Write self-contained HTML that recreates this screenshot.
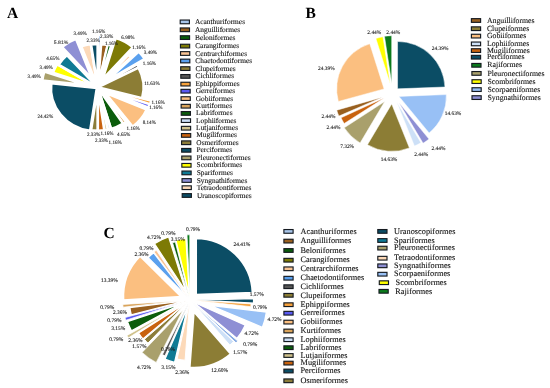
<!DOCTYPE html>
<html><head><meta charset="utf-8"><title>Figure</title>
<style>
html,body{margin:0;padding:0;background:#fff;}
body{width:550px;height:388px;overflow:hidden;}
svg{display:block;font-family:"Liberation Serif",serif;text-rendering:geometricPrecision;filter:blur(0.4px);}
</style></head><body>
<svg width="550" height="388" viewBox="0 0 550 388">
<rect width="550" height="388" fill="#fff"/>
<g stroke="#fff" stroke-linejoin="miter"><path d="M98.05 78.44L98.05 35.04A46 43.4 0 0 1 101.4 35.16Z" fill="#a9c6ea" stroke-width="2.2"/>
<path d="M97.7 87.4L101.06 44.12A46 43.4 0 0 1 107.7 45.04Z" fill="#99601f" stroke-width="2.7"/>
<path d="M97.7 87.4L107.7 45.04A46 43.4 0 0 1 110.95 45.84Z" fill="#0a5c0a" stroke-width="2.1"/>
<path d="M102.35 79.58L115.6 38.02A46 43.4 0 0 1 133.05 47.26Z" fill="#7d7a05" stroke-width="2.7"/>
<path d="M97.7 87.4L128.4 55.08A46 43.4 0 0 1 130.82 57.28Z" fill="#f9c393" stroke-width="2.3"/>
<path d="M105.61 81.63L138.73 51.51A46 43.4 0 0 1 144.88 59.02Z" fill="#5aa0ee" stroke-width="2.7"/>
<path d="M97.7 87.4L136.97 64.79A46 43.4 0 0 1 138.61 67.56Z" fill="#565656" stroke-width="1.9"/>
<path d="M97.7 87.4L138.61 67.56A46 43.4 0 0 1 142.2 98.38Z" fill="#8c7d35" stroke-width="2.7"/>
<path d="M106.32 89.85L150.82 100.82A46 43.4 0 0 1 149.85 103.86Z" fill="#f6a13c" stroke-width="1.9"/>
<path d="M105.64 90.26L149.18 104.28A46 43.4 0 0 1 147.98 107.24Z" fill="#5a5af2" stroke-width="1.9"/>
<path d="M104.59 92.42L146.92 109.39A46 43.4 0 0 1 132.7 126.77Z" fill="#fbbf80" stroke-width="2.7"/>
<path d="M97.7 87.4L125.81 121.75A46 43.4 0 0 1 123.08 123.6Z" fill="#d9a45c" stroke-width="2.1"/>
<path d="M97.7 87.4L123.08 123.6A46 43.4 0 0 1 110.95 128.96Z" fill="#0b5c0b" stroke-width="2.7"/>
<path d="M97.7 87.4L110.95 128.96A46 43.4 0 0 1 107.7 129.76Z" fill="#cde0f7" stroke-width="2.7"/>
<path d="M97.7 87.4L107.7 129.76A46 43.4 0 0 1 104.4 130.34Z" fill="#cfc18c" stroke-width="2.3"/>
<path d="M97.7 87.4L104.4 130.34A46 43.4 0 0 1 97.7 130.8Z" fill="#c8620e" stroke-width="2.7"/>
<path d="M97.7 87.4L97.7 130.8A46 43.4 0 0 1 91 130.34Z" fill="#8c7d3a" stroke-width="2.7"/>
<path d="M96.91 87.98L90.21 130.91A46 43.4 0 0 1 51.18 83.23Z" fill="#0b4d65" stroke-width="2.7"/>
<path d="M87.94 85.35L42.22 80.6A46 43.4 0 0 1 44.4 71.34Z" fill="#a9a06c" stroke-width="2.7"/>
<path d="M96.34 86.8L52.81 72.79A46 43.4 0 0 1 57.08 64.19Z" fill="#ffff00" stroke-width="2.7"/>
<path d="M97.7 87.4L58.43 64.79A46 43.4 0 0 1 67 55.08Z" fill="#0f7a94" stroke-width="2.7"/>
<path d="M92.49 79.35L61.79 47.02A46 43.4 0 0 1 76.06 38.81Z" fill="#8e8fd4" stroke-width="2.7"/>
<path d="M97.52 86.76L81.09 46.22A46 43.4 0 0 1 90.83 43.82Z" fill="#fcd9b8" stroke-width="2.7"/>
<path d="M97.7 87.4L91 44.46A46 43.4 0 0 1 97.7 44Z" fill="#0b4d65" stroke-width="2.7"/></g>
<g transform="scale(0.1)" font-size="51" text-anchor="middle" fill="#1c1c1c" stroke="#1c1c1c" stroke-width="1"><text x="986" y="329.08" >1.16%</text>
<text x="1067" y="380.08" >2.33%</text>
<text x="1115" y="448.08" >1.16%</text>
<text x="1279" y="392.08" >6.98%</text>
<text x="1388" y="493.08" >1.16%</text>
<text x="1504" y="542.09" >3.49%</text>
<text x="1494" y="654.09" >1.16%</text>
<text x="1519" y="849.09" >11.63%</text>
<text x="1581" y="1035.09" >1.16%</text>
<text x="1558" y="1093.09" >1.16%</text>
<text x="1493" y="1241.09" >8.14%</text>
<text x="1332" y="1300.09" >1.16%</text>
<text x="1237" y="1358.09" >4.65%</text>
<text x="1070" y="1346.09" >1.16%</text>
<text x="1152" y="1436.09" >1.16%</text>
<text x="1015" y="1418.09" >2.33%</text>
<text x="936" y="1355.09" >2.33%</text>
<text x="453" y="1183.09" >24.42%</text>
<text x="342" y="780.09" >3.49%</text>
<text x="462" y="692.09" >3.49%</text>
<text x="528" y="601.09" >4.65%</text>
<text x="611" y="437.08" font-family="Liberation Sans, sans-serif" font-size="51" fill="#333" stroke="#333">5.81%</text>
<text x="801" y="347.08" >3.49%</text>
<text x="931" y="419.08" >2.33%</text></g>
<g><rect x="180.2" y="20.05" width="9.2" height="3.7" fill="#a9c6ea" stroke="#151a20" stroke-width="1.15"/>
<rect x="180.29" y="27.95" width="9.2" height="3.7" fill="#99601f" stroke="#151a20" stroke-width="1.15"/>
<rect x="180.37" y="35.75" width="9.2" height="3.7" fill="#0a5c0a" stroke="#151a20" stroke-width="1.15"/>
<rect x="180.46" y="44.25" width="9.2" height="3.7" fill="#7d7a05" stroke="#151a20" stroke-width="1.15"/>
<rect x="180.55" y="51.65" width="9.2" height="3.7" fill="#f9c393" stroke="#151a20" stroke-width="1.15"/>
<rect x="180.63" y="59.15" width="9.2" height="3.7" fill="#5aa0ee" stroke="#151a20" stroke-width="1.15"/>
<rect x="180.72" y="66.75" width="9.2" height="3.7" fill="#8c7d35" stroke="#151a20" stroke-width="1.15"/>
<rect x="180.81" y="74.55" width="9.2" height="3.7" fill="#565656" stroke="#151a20" stroke-width="1.15"/>
<rect x="180.9" y="82.25" width="9.2" height="3.7" fill="#f6a13c" stroke="#151a20" stroke-width="1.15"/>
<rect x="180.98" y="89.35" width="9.2" height="3.7" fill="#5a5af2" stroke="#151a20" stroke-width="1.15"/>
<rect x="181.07" y="96.75" width="9.2" height="3.7" fill="#fbbf80" stroke="#151a20" stroke-width="1.15"/>
<rect x="181.16" y="104.35" width="9.2" height="3.7" fill="#d9a45c" stroke="#151a20" stroke-width="1.15"/>
<rect x="181.24" y="111.55" width="9.2" height="3.7" fill="#0b5c0b" stroke="#151a20" stroke-width="1.15"/>
<rect x="181.33" y="118.75" width="9.2" height="3.7" fill="#cde0f7" stroke="#151a20" stroke-width="1.15"/>
<rect x="181.42" y="126.35" width="9.2" height="3.7" fill="#cfc18c" stroke="#151a20" stroke-width="1.15"/>
<rect x="181.5" y="133.55" width="9.2" height="3.7" fill="#c8620e" stroke="#151a20" stroke-width="1.15"/>
<rect x="181.59" y="140.9" width="9.2" height="3.7" fill="#8c7d3a" stroke="#151a20" stroke-width="1.15"/>
<rect x="181.68" y="148.45" width="9.2" height="3.7" fill="#0b4d65" stroke="#151a20" stroke-width="1.15"/>
<rect x="181.77" y="156.05" width="9.2" height="3.7" fill="#a9a06c" stroke="#151a20" stroke-width="1.15"/>
<rect x="181.85" y="163.45" width="9.2" height="3.7" fill="#ffff00" stroke="#151a20" stroke-width="1.15"/>
<rect x="181.94" y="171.05" width="9.2" height="3.7" fill="#0f7a94" stroke="#151a20" stroke-width="1.15"/>
<rect x="182.03" y="178.65" width="9.2" height="3.7" fill="#8e8fd4" stroke="#151a20" stroke-width="1.15"/>
<rect x="182.11" y="185.85" width="9.2" height="3.7" fill="#fcd9b8" stroke="#151a20" stroke-width="1.15"/>
<rect x="182.2" y="193.65" width="9.2" height="3.7" fill="#0b4d65" stroke="#151a20" stroke-width="1.15"/></g><g transform="scale(0.1)" font-size="74" fill="#111" stroke="#111" stroke-width="1"><text x="1949" y="239.35">Acanthuriformes</text>
<text x="1949.87" y="318.35">Anguilliformes</text>
<text x="1950.74" y="396.35">Beloniformes</text>
<text x="1951.61" y="481.35">Carangiformes</text>
<text x="1952.48" y="555.35">Centrarchiformes</text>
<text x="1953.35" y="630.35">Chaetodontiformes</text>
<text x="1954.22" y="706.35">Clupeiformes</text>
<text x="1955.09" y="784.35">Cichliformes</text>
<text x="1955.96" y="861.35">Ephippiformes</text>
<text x="1956.83" y="932.35">Gerreiformes</text>
<text x="1957.7" y="1006.35">Gobiiformes</text>
<text x="1958.57" y="1082.35">Kurtiformes</text>
<text x="1959.43" y="1154.35">Labriformes</text>
<text x="1960.3" y="1226.35">Lophiiformes</text>
<text x="1961.17" y="1302.35">Lutjaniformes</text>
<text x="1962.04" y="1374.35">Mugiliformes</text>
<text x="1962.91" y="1447.85">Osmeriformes</text>
<text x="1963.78" y="1523.35">Perciformes</text>
<text x="1964.65" y="1599.35">Pleuronectiformes</text>
<text x="1965.52" y="1673.35">Scombriformes</text>
<text x="1966.39" y="1749.35">Spariformes</text>
<text x="1967.26" y="1825.35">Syngnathiformes</text>
<text x="1968.13" y="1897.35">Tetraodontiformes</text>
<text x="1969" y="1975.35">Uranoscopiformes</text></g>
<g stroke="#fff" stroke-linejoin="miter"><path d="M397.56 88.84L397.56 41.44A47.4 47.4 0 0 1 444.93 87.02Z" fill="#0b4d65" stroke-width="0.5"/>
<path d="M398.98 96.4L446.34 94.59A47.4 47.4 0 0 1 429.14 132.97Z" fill="#98c0f5" stroke-width="0.5"/>
<path d="M398.83 102.5L428.99 139.07A47.4 47.4 0 0 1 423.05 143.24Z" fill="#8e8fd4" stroke-width="0.5"/>
<path d="M396.72 102.01L420.94 142.76A47.4 47.4 0 0 1 414.43 145.98Z" fill="#cde0f7" stroke-width="0.5"/>
<path d="M391.7 103.97L409.42 147.93A47.4 47.4 0 0 1 367.47 144.71Z" fill="#8c7d35" stroke-width="0.5"/>
<path d="M384.73 101.57L360.1 143A48.2 48.2 0 0 1 344.28 127.77Z" fill="#a9a06c" stroke-width="0.5"/>
<path d="M384.15 98.04L344.17 123.49A47.4 47.4 0 0 1 341.06 117.77Z" fill="#c8620e" stroke-width="0.5"/>
<path d="M382.34 97.15L338.88 116.09A47.4 47.4 0 0 1 336.76 110.19Z" fill="#99601f" stroke-width="0.5"/>
<path d="M384.07 88.91L338.36 101.47A47.4 47.4 0 0 1 369.76 43.72Z" fill="#fbbf80" stroke-width="0.5"/>
<path d="M390.2 83.67L375.9 38.47A47.4 47.4 0 0 1 382.96 36.82Z" fill="#ffff00" stroke-width="0.5"/>
<path d="M391.7 83.13L384.47 36.29A47.4 47.4 0 0 1 391.7 35.73Z" fill="#0b7a1c" stroke-width="0.5"/></g>
<g transform="scale(0.1)" font-size="54" text-anchor="middle" fill="#1c1c1c" stroke="#1c1c1c" stroke-width="1"><text x="4401" y="502.09" >24.39%</text>
<text x="4530" y="1154.09" >14.63%</text>
<text x="4385" y="1495.09" >2.44%</text>
<text x="4212" y="1559.09" >2.44%</text>
<text x="3890" y="1614.09" >14.63%</text>
<text x="3471" y="1484.09" >7.32%</text>
<text x="3335" y="1289.09" >2.44%</text>
<text x="3285" y="1184.09" >2.44%</text>
<text x="3263" y="702.09" >24.39%</text>
<text x="3743" y="344.09" >2.44%</text>
<text x="3933" y="339.09" >2.44%</text></g>
<g><rect x="471.4" y="18.65" width="9.2" height="3.7" fill="#99601f" stroke="#151a20" stroke-width="1.15"/>
<rect x="471.4" y="26.85" width="9.2" height="3.7" fill="#8c7d35" stroke="#151a20" stroke-width="1.15"/>
<rect x="471.4" y="34.25" width="9.2" height="3.7" fill="#fbbf80" stroke="#151a20" stroke-width="1.15"/>
<rect x="471.4" y="42.05" width="9.2" height="3.7" fill="#cde0f7" stroke="#151a20" stroke-width="1.15"/>
<rect x="471.4" y="48.75" width="9.2" height="3.7" fill="#c8620e" stroke="#151a20" stroke-width="1.15"/>
<rect x="471.4" y="55.35" width="9.2" height="3.7" fill="#0b4d65" stroke="#151a20" stroke-width="1.15"/>
<rect x="471.8" y="63.45" width="9.2" height="3.7" fill="#0b7a1c" stroke="#151a20" stroke-width="1.15"/>
<rect x="471.9" y="71.55" width="9.2" height="3.7" fill="#a9a06c" stroke="#151a20" stroke-width="1.15"/>
<rect x="472" y="79.75" width="9.2" height="3.7" fill="#ffff00" stroke="#151a20" stroke-width="1.15"/>
<rect x="472" y="87.75" width="9.2" height="3.7" fill="#98c0f5" stroke="#151a20" stroke-width="1.15"/>
<rect x="472" y="95.75" width="9.2" height="3.7" fill="#8e8fd4" stroke="#151a20" stroke-width="1.15"/></g><g transform="scale(0.1)" font-size="78" fill="#111" stroke="#111" stroke-width="1"><text x="4869" y="226.45">Anguilliformes</text>
<text x="4869" y="308.45">Clupeiformes</text>
<text x="4869" y="382.45">Gobiiformes</text>
<text x="4869" y="460.45">Lophiiformes</text>
<text x="4869" y="527.45">Mugiliformes</text>
<text x="4869" y="593.45">Perciformes</text>
<text x="4873" y="674.45">Rajiformes</text>
<text x="4874" y="755.45">Pleuronectiformes</text>
<text x="4875" y="837.45">Scombriformes</text>
<text x="4875" y="917.45">Scorpaeniformes</text>
<text x="4875" y="997.45">Syngnathiformes</text></g>
<g stroke="#fff" stroke-linejoin="miter"><path d="M195.83 294.95L195.83 237.95A57 57 0 0 1 252.79 292.84Z" fill="#0b4d65" stroke-width="2.4"/>
<path d="M196.6 300.08L253.58 298.51A57 57 0 0 1 253.52 303.06Z" fill="#0b4d65" stroke-width="1.3"/>
<path d="M194.08 300.35L250.98 303.88A57 57 0 0 1 250.73 306.69Z" fill="#f6a13c" stroke-width="0.75"/>
<path d="M209.81 305.26L266.4 312.14A57 57 0 0 1 262.34 327.39Z" fill="#98c0f5" stroke-width="1.3"/>
<path d="M193.23 302.01L245.32 325.13A57 57 0 0 1 236.99 338.53Z" fill="#8e8fd4" stroke-width="1.3"/>
<path d="M194.47 304L237.82 341.01A57 57 0 0 1 236.07 342.97Z" fill="#86abe2" stroke-width="1.0"/>
<path d="M192.22 302.3L233.62 341.49A57 57 0 0 1 229.84 345.12Z" fill="#cde0f7" stroke-width="1.0"/>
<path d="M193.63 310.91L231.11 353.86A57 57 0 0 1 189.41 367.75Z" fill="#8c7d35" stroke-width="2.4"/>
<path d="M189.5 303.36L185.07 360.19A57 57 0 0 1 177.11 359Z" fill="#fcd9b8" stroke-width="1.0"/>
<path d="M187.69 306.93L174.57 362.4A57 57 0 0 1 164.92 359.18Z" fill="#0f7a94" stroke-width="1.3"/>
<path d="M188.23 303.7L164.96 355.73A57 57 0 0 1 162.42 354.52Z" fill="#565656" stroke-width="0.75"/>
<path d="M182.7 310.27L156.2 362.42A58.5 58.5 0 0 1 142.1 352.39Z" fill="#a9a06c" stroke-width="0.6"/>
<path d="M187.67 302.19L147.97 343.1A57 57 0 0 1 144.39 339.28Z" fill="#8c7d3a" stroke-width="1.0"/>
<path d="M186.69 302.42L142.92 338.94A57 57 0 0 1 138.58 332.99Z" fill="#c8620e" stroke-width="1.3"/>
<path d="M176.81 307.76L128.42 337.87A57 57 0 0 1 126.99 335.44Z" fill="#cfc18c" stroke-width="0.75"/>
<path d="M181.56 303.65L131.47 330.85A57 57 0 0 1 127.43 321.52Z" fill="#0b5c0b" stroke-width="1.3"/>
<path d="M180.11 302.89L125.82 320.24A57 57 0 0 1 125.03 317.53Z" fill="#5a5af2" stroke-width="0.75"/>
<path d="M186.46 300.66L131.24 314.77A57 57 0 0 1 129.88 307.54Z" fill="#99601f" stroke-width="1.3"/>
<path d="M179.74 300.89L123.09 307.22A57 57 0 0 1 122.85 304.41Z" fill="#d9a45c" stroke-width="0.75"/>
<path d="M181.76 296.91L123.17 300.54A58.7 58.7 0 0 1 140 255.66Z" fill="#fbbf80" stroke-width="2.4"/>
<path d="M188.36 298.12L148.19 257.67A57 57 0 0 1 153.74 252.83Z" fill="#5aa0ee" stroke-width="1.3"/>
<path d="M188.26 297.56L154.08 251.94A57 57 0 0 1 156.37 250.31Z" fill="#f9c393" stroke-width="0.75"/>
<path d="M185.82 291.25L154.39 243.7A57 57 0 0 1 168.63 236.9Z" fill="#7d7a05" stroke-width="1.3"/>
<path d="M189.25 297.3L172.57 242.8A57 57 0 0 1 175.29 242.04Z" fill="#0a5c0a" stroke-width="0.75"/>
<path d="M189.32 295.45L175.89 240.05A57 57 0 0 1 185.95 238.55Z" fill="#ffff00" stroke-width="1.3"/>
<path d="M189.8 291.8L186.98 234.87A57 57 0 0 1 189.8 234.8Z" fill="#0b7a1c" stroke-width="0.75"/></g>
<g transform="scale(0.1)" font-size="54.5" text-anchor="middle" fill="#1c1c1c" stroke="#1c1c1c" stroke-width="1"><text x="2419" y="2463.26" >24.41%</text>
<text x="2567" y="2958.26" >1.57%</text>
<text x="2601" y="3094.26" >0.79%</text>
<text x="2746" y="3208.26" >4.72%</text>
<text x="2515" y="3352.26" >4.72%</text>
<text x="2502" y="3455.26" >0.79%</text>
<text x="2403" y="3540.26" >1.57%</text>
<text x="2197" y="3721.26" >12.60%</text>
<text x="1822" y="3741.26" >2.36%</text>
<text x="1684" y="3692.26" >3.15%</text>
<text x="1681" y="3512.26" >0.79%</text>
<text x="1441" y="3692.26" >4.72%</text>
<text x="1394" y="3484.26" >1.57%</text>
<text x="1354" y="3415.26" >2.36%</text>
<text x="1163" y="3406.26" >0.79%</text>
<text x="1182" y="3301.26" >3.15%</text>
<text x="1144" y="3221.26" >0.79%</text>
<text x="1200" y="3144.26" >2.36%</text>
<text x="1072" y="3086.26" >0.79%</text>
<text x="1094" y="2815.26" >13.39%</text>
<text x="1415" y="2562.26" >2.36%</text>
<text x="1465" y="2503.26" >0.79%</text>
<text x="1540" y="2391.26" >4.72%</text>
<text x="1684" y="2348.26" >0.79%</text>
<text x="1777" y="2410.26" >3.15%</text>
<text x="1931" y="2308.26" >0.79%</text></g>
<g><rect x="283.9" y="229.55" width="9.2" height="3.7" fill="#a9c6ea" stroke="#151a20" stroke-width="1.15"/>
<rect x="283.9" y="239.25" width="9.2" height="3.7" fill="#99601f" stroke="#151a20" stroke-width="1.15"/>
<rect x="283.9" y="248.65" width="9.2" height="3.7" fill="#0a5c0a" stroke="#151a20" stroke-width="1.15"/>
<rect x="283.9" y="258.35" width="9.2" height="3.7" fill="#7d7a05" stroke="#151a20" stroke-width="1.15"/>
<rect x="283.9" y="266.95" width="9.2" height="3.7" fill="#f9c393" stroke="#151a20" stroke-width="1.15"/>
<rect x="283.9" y="276.35" width="9.2" height="3.7" fill="#5aa0ee" stroke="#151a20" stroke-width="1.15"/>
<rect x="283.9" y="284.85" width="9.2" height="3.7" fill="#565656" stroke="#151a20" stroke-width="1.15"/>
<rect x="283.9" y="293.45" width="9.2" height="3.7" fill="#8c7d35" stroke="#151a20" stroke-width="1.15"/>
<rect x="283.9" y="302.85" width="9.2" height="3.7" fill="#f6a13c" stroke="#151a20" stroke-width="1.15"/>
<rect x="283.9" y="311.35" width="9.2" height="3.7" fill="#5a5af2" stroke="#151a20" stroke-width="1.15"/>
<rect x="283.9" y="320.25" width="9.2" height="3.7" fill="#fbbf80" stroke="#151a20" stroke-width="1.15"/>
<rect x="283.9" y="329.15" width="9.2" height="3.7" fill="#d9a45c" stroke="#151a20" stroke-width="1.15"/>
<rect x="283.9" y="337.85" width="9.2" height="3.7" fill="#cde0f7" stroke="#151a20" stroke-width="1.15"/>
<rect x="283.9" y="345.85" width="9.2" height="3.7" fill="#0b5c0b" stroke="#151a20" stroke-width="1.15"/>
<rect x="283.9" y="353.65" width="9.2" height="3.7" fill="#cfc18c" stroke="#151a20" stroke-width="1.15"/>
<rect x="283.9" y="361.25" width="9.2" height="3.7" fill="#c8620e" stroke="#151a20" stroke-width="1.15"/>
<rect x="283.9" y="369.15" width="9.2" height="3.7" fill="#0b4d65" stroke="#151a20" stroke-width="1.15"/>
<rect x="283.9" y="378.95" width="9.2" height="3.7" fill="#8c7d3a" stroke="#151a20" stroke-width="1.15"/></g><g transform="scale(0.1)" font-size="83" fill="#111" stroke="#111" stroke-width="1"><text x="3005" y="2336.82">Acanthuriformes</text>
<text x="3005" y="2433.82">Anguilliformes</text>
<text x="3005" y="2527.82">Beloniformes</text>
<text x="3005" y="2624.83">Carangiformes</text>
<text x="3005" y="2710.83">Centrarchiformes</text>
<text x="3005" y="2804.83">Chaetodontiformes</text>
<text x="3005" y="2889.83">Cichliformes</text>
<text x="3005" y="2975.83">Clupeiformes</text>
<text x="3005" y="3069.83">Ephippiformes</text>
<text x="3005" y="3154.83">Gerreiformes</text>
<text x="3005" y="3243.83">Gobiiformes</text>
<text x="3005" y="3332.83">Kurtiformes</text>
<text x="3005" y="3419.83">Lophiiformes</text>
<text x="3005" y="3499.83">Labriformes</text>
<text x="3005" y="3577.83">Lutjaniformes</text>
<text x="3005" y="3653.83">Mugiliformes</text>
<text x="3005" y="3732.83">Perciformes</text>
<text x="3005" y="3830.83">Osmeriformes</text></g>
<g><rect x="377.8" y="229.55" width="9.2" height="3.7" fill="#0b4d65" stroke="#151a20" stroke-width="1.15"/>
<rect x="377.8" y="238.65" width="9.2" height="3.7" fill="#0f7a94" stroke="#151a20" stroke-width="1.15"/>
<rect x="377.8" y="246.25" width="9.2" height="3.7" fill="#a9a06c" stroke="#151a20" stroke-width="1.15"/>
<rect x="377.8" y="256.35" width="9.2" height="3.7" fill="#fcd9b8" stroke="#151a20" stroke-width="1.15"/>
<rect x="377.8" y="263.95" width="9.2" height="3.7" fill="#8e8fd4" stroke="#151a20" stroke-width="1.15"/>
<rect x="377.8" y="272.35" width="9.2" height="3.7" fill="#98c0f5" stroke="#151a20" stroke-width="1.15"/>
<rect x="379.3" y="280.85" width="9.2" height="3.7" fill="#ffff00" stroke="#151a20" stroke-width="1.15"/>
<rect x="379" y="289.45" width="9.2" height="3.7" fill="#0b7a1c" stroke="#151a20" stroke-width="1.15"/></g><g transform="scale(0.1)" font-size="83" fill="#111" stroke="#111" stroke-width="1"><text x="3941" y="2336.82">Uranoscopiformes</text>
<text x="3941" y="2427.82">Spariformes</text>
<text x="3941" y="2503.82">Pleuronectiformes</text>
<text x="3941" y="2604.83">Tetraodontiformes</text>
<text x="3941" y="2680.83">Syngnathiformes</text>
<text x="3941" y="2764.83">Scorpaeniformes</text>
<text x="3956" y="2849.83">Scombriformes</text>
<text x="3953" y="2935.83">Rajiformes</text></g>
<g font-size="15.5" font-weight="bold" fill="#000"><text x="7" y="18">A</text><text x="305.5" y="18">B</text><text x="103.5" y="238.2">C</text></g>
</svg>
</body></html>
